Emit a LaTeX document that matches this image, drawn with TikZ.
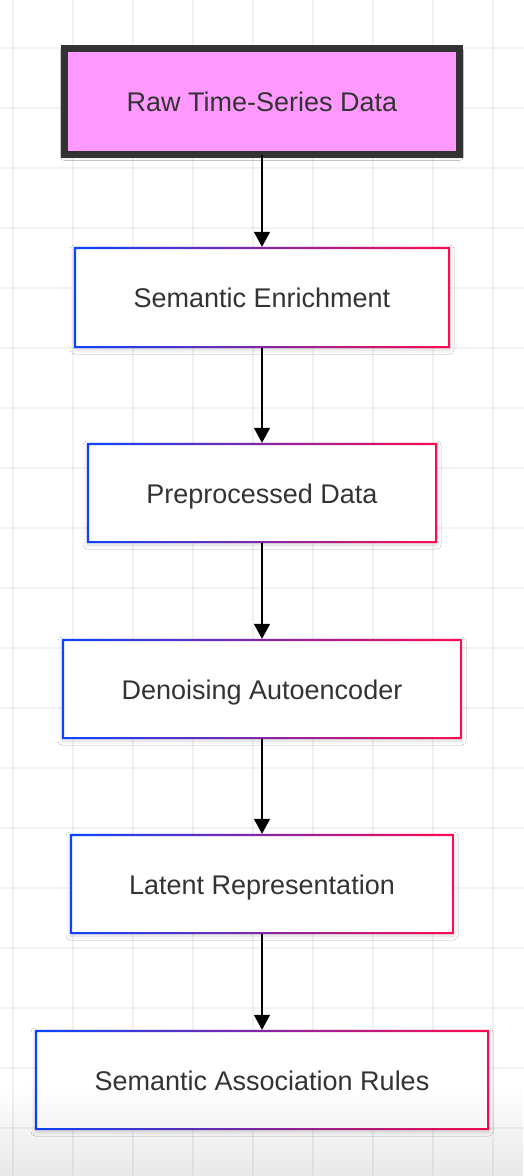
\documentclass[tikz,border=0pt]{standalone}
\usepackage{fontspec}
\setmainfont{Liberation Sans}
\usetikzlibrary{arrows.meta,shadows.blur,fadings}
\definecolor{txt}{HTML}{333333}
\definecolor{rawfill}{HTML}{FF99FF}
\definecolor{gblue}{HTML}{0A44FF}
\definecolor{gred}{HTML}{FF0A4E}
\tikzset{
  lbl/.style={font=\fontsize{27}{32}\selectfont, text=txt, text height=20.5pt, text depth=0pt},
  rawbox/.style={lbl, rectangle, draw=txt, fill=rawfill, line width=7pt, inner sep=0pt,
    minimum width=395pt, minimum height=106pt,
    blur shadow={shadow xshift=0pt, shadow yshift=-2pt, shadow blur radius=4pt, shadow opacity=20}},
  gbox/.style={lbl, rectangle, fill=white, inner sep=0pt, minimum height=100pt,
    blur shadow={shadow xshift=0pt, shadow yshift=-2pt, shadow blur radius=4pt, shadow opacity=15}},
  flow/.style={draw=black, line width=1.6pt, -{Triangle[length=15pt,width=16pt]}},
  gridline/.style={draw=black, opacity=0.05, line width=1.6pt}
}
\newcommand{\gborder}[1]{%
  \shade[left color=gblue, right color=gred, even odd rule]
    (#1.south west) rectangle (#1.north east)
    ([xshift=2.2pt,yshift=2.2pt]#1.south west) rectangle ([xshift=-2.2pt,yshift=-2.2pt]#1.north east);}
\begin{document}
\begin{tikzpicture}[x=1pt,y=-1pt]
\useasboundingbox (0,0) rectangle (524,1176);
\fill[white] (0,0) rectangle (524,1176);
% grid
\foreach \gx in {13,73,...,493} { \path[gridline] (\gx,0) -- (\gx,1176); }
\foreach \gy in {48,108,...,1128} { \path[gridline] (0,\gy) -- (524,\gy); }
% nodes
\node[rawbox] (raw) at (262,101.5) {Raw Time-Series Data};
\node[gbox, minimum width=376pt, minimum height=101pt] (enr) at (262,297.5) {Semantic Enrichment};
\node[gbox, minimum width=350pt] (pre) at (262,493) {Preprocessed Data};
\node[gbox, minimum width=400pt] (dae) at (262,689) {Denoising Autoencoder};
\node[gbox, minimum width=384pt] (lat) at (262,884) {Latent Representation};
\node[gbox, minimum width=454pt] (sar) at (262,1080) {Semantic Association Rules};
\gborder{enr}
\gborder{pre}
\gborder{dae}
\gborder{lat}
\gborder{sar}
% connectors
\draw[flow] ([yshift=3.5pt]raw.south) -- (enr.north);
\draw[flow] (enr.south) -- (pre.north);
\draw[flow] (pre.south) -- (dae.north);
\draw[flow] (dae.south) -- (lat.north);
\draw[flow] (lat.south) -- (sar.north);
% bottom fade
\fill[black, opacity=0.09, path fading=north] (0,1085) rectangle (524,1176);
\end{tikzpicture}
\end{document}
